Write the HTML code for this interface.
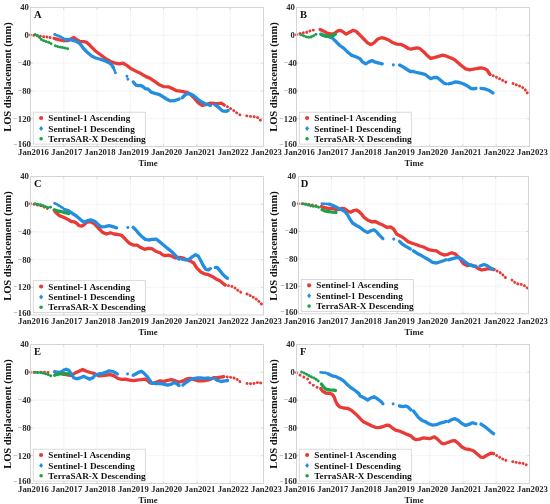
<!DOCTYPE html><html><head><meta charset="utf-8"><style>html,body{margin:0;padding:0;background:#fff;}svg{display:block;filter:blur(0.3px);}text{font-family:"Liberation Serif",serif;font-weight:bold;}</style></head><body>
<svg width="550" height="504" viewBox="0 0 550 504">
<rect width="550" height="504" fill="#fff"/>
<path d="M63.79 7.5V146.5M97.07 7.5V146.5M130.36 7.5V146.5M163.64 7.5V146.5M196.93 7.5V146.5M230.21 7.5V146.5M30.5 35.3H263.5M30.5 63.1H263.5M30.5 90.9H263.5M30.5 118.7H263.5" stroke="#f1f1f1" stroke-width="0.8" fill="none"/>
<polyline points="30.5,35 33.7,35.4 37.5,35.8 41.4,36.3 43.9,36.7 48.4,37.2 52,38" fill="none" stroke="#e93a36" stroke-width="2.9" stroke-linecap="round" stroke-linejoin="round" stroke-dasharray="0.1 3.2"/>
<polyline points="54.1,38.4 58.5,39.7 63.6,40.7 67.5,40.7 71.3,38.8 73.8,37.5 76.4,39.5 80.2,41.7 84,41.7 86.5,42.3 90.4,45.8 95.1,50.7 100.2,54.5 105.3,58.4 110.4,61.5 114.2,62.8 119.3,63.8 123.1,63.2 126.9,65.4 130.7,68.5 135.8,71.1 140.9,73.6 146,76.6 149.8,78.1 155,81.6 158.8,84.4 163.9,86.7 169,86.9 172.8,88.8 176.6,90.7 181.7,91.4 186.8,92.3 190.6,94.5 194.5,98.4 198.3,102.8 202.1,105.4 205.9,104.7 209.7,103.2 214.8,103.5 218.6,103.6 221.4,103.2 224.1,105" fill="none" stroke="#e93a36" stroke-width="3.3" stroke-linecap="round" stroke-linejoin="round"/>
<polyline points="224.1,105 227.7,106.8 231.4,109.1 235,111.4 237.7,113.6 241.4,115.5" fill="none" stroke="#e93a36" stroke-width="2.9" stroke-linecap="round" stroke-linejoin="round" stroke-dasharray="0.1 3.6"/>
<polyline points="246.8,115.9 252.3,116.6 256.8,116.8 259.5,119.1 261.8,121.8" fill="none" stroke="#e93a36" stroke-width="2.9" stroke-linecap="round" stroke-linejoin="round" stroke-dasharray="0.1 3.6"/>
<polyline points="54.7,34.4 58.5,35.9 61.7,37.2 64.9,39.5" fill="none" stroke="#238de0" stroke-width="2.9" stroke-linecap="round" stroke-linejoin="round" stroke-dasharray="0.1 2.2"/>
<polyline points="64.9,39.5 68.7,39.7 72.5,40.1 76.4,41.4 80.2,43.9 84,49 87.8,52.8 91.6,56 95.1,57.7 100.2,59.3 105.3,60.9 109.1,62.8 111.6,64.7 113.5,67.9" fill="none" stroke="#238de0" stroke-width="3.3" stroke-linecap="round" stroke-linejoin="round"/>
<polyline points="113.5,67.9 114.8,71.1 116.1,74.5" fill="none" stroke="#238de0" stroke-width="2.9" stroke-linecap="round" stroke-linejoin="round" stroke-dasharray="0.1 2.4"/>
<polyline points="126.9,76.2 128.2,80" fill="none" stroke="#238de0" stroke-width="2.9" stroke-linecap="round" stroke-linejoin="round" stroke-dasharray="0.1 3"/>
<polyline points="133.3,81.9 135.8,85.1 138.4,85.7 140.9,85.5 143.5,87 145.4,88.9 147.9,88.9 151.1,92.1 154.9,93.4 158.8,94.3 162.6,96.5 166.5,99 170.3,100.9 174.1,100.7 179.2,99" fill="none" stroke="#238de0" stroke-width="3.3" stroke-linecap="round" stroke-linejoin="round"/>
<polyline points="182.4,97.7 185.5,94.5 189.4,93.5 193.2,95.2 197,98.4 200.8,101.5 204.6,103.5 208.5,104.7 210.4,105.4" fill="none" stroke="#238de0" stroke-width="3.3" stroke-linecap="round" stroke-linejoin="round"/>
<polyline points="214.8,104.7 218.6,107.3 222.3,110.9 225.9,111.4 228.2,110.5" fill="none" stroke="#238de0" stroke-width="3.3" stroke-linecap="round" stroke-linejoin="round"/>
<polyline points="35,34.4 37.5,35.6 39.5,37.5 42,40.1 45.8,41.4 49.6,42.6 52.2,44.5" fill="none" stroke="#1ca24c" stroke-width="2.9" stroke-linecap="round" stroke-linejoin="round" stroke-dasharray="0.1 2.6"/>
<polyline points="55.4,45.8 58.5,46.8 63.6,47.7 68.7,49" fill="none" stroke="#1ca24c" stroke-width="2.9" stroke-linecap="round" stroke-linejoin="round" stroke-dasharray="0.1 2.4"/>
<rect x="30.5" y="7.5" width="233" height="139" fill="none" stroke="#d4d4d4" stroke-width="1"/>
<path d="M63.79 7.5v2.2M63.79 146.5v-2.2M97.07 7.5v2.2M97.07 146.5v-2.2M130.36 7.5v2.2M130.36 146.5v-2.2M163.64 7.5v2.2M163.64 146.5v-2.2M196.93 7.5v2.2M196.93 146.5v-2.2M230.21 7.5v2.2M230.21 146.5v-2.2M30.5 35.3h2.2M263.5 35.3h-2.2M30.5 63.1h2.2M263.5 63.1h-2.2M30.5 90.9h2.2M263.5 90.9h-2.2M30.5 118.7h2.2M263.5 118.7h-2.2" stroke="#cfcfcf" stroke-width="0.8" fill="none"/>
<g font-size="8.7" fill="#2b2b2b"><text x="28.9" y="10.4" text-anchor="end">40</text><text x="28.9" y="38.2" text-anchor="end">0</text><text x="30.9" y="66" text-anchor="end"><tspan font-weight="normal" font-size="7.5" fill="#666" dy="-0.9">−</tspan><tspan dx="0.3" dy="0.9">40</tspan></text><text x="30.9" y="93.8" text-anchor="end"><tspan font-weight="normal" font-size="7.5" fill="#666" dy="-0.9">−</tspan><tspan dx="0.3" dy="0.9">80</tspan></text><text x="30.9" y="121.6" text-anchor="end"><tspan font-weight="normal" font-size="7.5" fill="#666" dy="-0.9">−</tspan><tspan dx="0.3" dy="0.9">120</tspan></text><text x="30.9" y="147.4" text-anchor="end"><tspan font-weight="normal" font-size="7.5" fill="#666" dy="-0.9">−</tspan><tspan dx="0.3" dy="0.9">160</tspan></text></g>
<g font-size="8.7" fill="#2b2b2b"><text x="33.5" y="155.1" text-anchor="middle">Jan2016</text><text x="66.79" y="155.1" text-anchor="middle">Jan2017</text><text x="100.07" y="155.1" text-anchor="middle">Jan2018</text><text x="133.36" y="155.1" text-anchor="middle">Jan2019</text><text x="166.64" y="155.1" text-anchor="middle">Jan2020</text><text x="199.93" y="155.1" text-anchor="middle">Jan2021</text><text x="233.21" y="155.1" text-anchor="middle">Jan2022</text><text x="266.5" y="155.1" text-anchor="middle">Jan2023</text></g>
<text x="148" y="166.3" font-size="8.7" text-anchor="middle" fill="#222">Time</text>
<text transform="translate(11,77) rotate(-90)" font-size="10.5" text-anchor="middle" fill="#111">LOS displacement (mm)</text>
<text x="34" y="18.3" font-size="10.5" fill="#111">A</text>
<rect x="33.3" y="112.2" width="112" height="31.9" fill="#fff" stroke="#d0d0d0" stroke-width="0.8"/>
<circle cx="41.1" cy="118" r="2.1" fill="#e93a36"/>
<text x="48.3" y="121.1" font-size="9.2" fill="#111">Sentinel-1 Ascending</text>
<path d="M41.1 125.9l2 2.5l-2 2.5l-2 -2.5z" fill="#238de0"/>
<text x="48.3" y="131.5" font-size="9.2" fill="#111">Sentinel-1 Descending</text>
<circle cx="41.1" cy="138.8" r="1.8" fill="#1ca24c"/>
<text x="48.3" y="141.9" font-size="9.2" fill="#111">TerraSAR-X Descending</text>
<path d="M329.79 7.5V146.5M363.07 7.5V146.5M396.36 7.5V146.5M429.64 7.5V146.5M462.93 7.5V146.5M496.21 7.5V146.5M296.5 35.3H529.5M296.5 63.1H529.5M296.5 90.9H529.5M296.5 118.7H529.5" stroke="#f1f1f1" stroke-width="0.8" fill="none"/>
<polyline points="296.5,34.7 301,33.2 304.5,32.6 307.4,32.2 309.9,30.9 314.4,29.9" fill="none" stroke="#e93a36" stroke-width="2.9" stroke-linecap="round" stroke-linejoin="round" stroke-dasharray="0.1 3.4"/>
<polyline points="320.1,29.4 323.3,30.9 327.1,33.2 332.2,34.1 334.7,33.2 337.9,30.9 340.5,30.3 343,31.9 346.2,34.1 350,31.9 353.2,30.3 356.4,31.5 360.2,35.4 363.8,39 367.6,42.8 370.8,44.7 374,42.8 377.8,39 381.6,37.7 385.5,38.7 389.3,40.3 393.1,42.8 396.9,44.1 400.7,44.3 404.5,46 408.4,48.5 410.9,49.2 413.5,48.5 417.3,47.9 419.8,48.5 423.6,51.7 427.5,55.8 430.7,58.4 433.9,57.7 437.7,56.7 442.8,55.2 446.6,56.2 450.5,57.7 454.3,59.6 458.1,62.8 461.9,66 465.7,68.9 469.5,69.8 473.4,69.2 477.2,68.5 481,67.9 484,68.5 487,70 490,74.5" fill="none" stroke="#e93a36" stroke-width="3.3" stroke-linecap="round" stroke-linejoin="round"/>
<polyline points="490,74.5 494,76 498,78 502,80 506,82.2 509,82.8" fill="none" stroke="#e93a36" stroke-width="2.9" stroke-linecap="round" stroke-linejoin="round" stroke-dasharray="0.1 3.4"/>
<polyline points="513,83.5 518,85.5 522,87 525,89.5 528,94" fill="none" stroke="#e93a36" stroke-width="2.9" stroke-linecap="round" stroke-linejoin="round" stroke-dasharray="0.1 3.4"/>
<polyline points="320.7,34.1 324.5,35.7 329.6,37 332.2,37.9 336,41.7 339.8,45.5 343.6,48.1 347.5,51.9 351.3,55.1 356.4,57 360,58.7 362.5,61.9 365.7,63.8 368.9,61.9 372.1,60.6 375.3,62.2 379.1,63.2 382.3,63.8" fill="none" stroke="#238de0" stroke-width="3.3" stroke-linecap="round" stroke-linejoin="round"/>
<polyline points="393.3,64.8 393.4,64.9" fill="none" stroke="#238de0" stroke-width="2.9" stroke-linecap="round" stroke-linejoin="round" stroke-dasharray="0.1 3"/>
<polyline points="399.5,65.1 403.3,67 407.1,69.5 410.3,71.5 413.5,71.5 417.3,72.7 421.1,73.4 425,74.3 427.5,76.2 430.7,78.7 433.9,77.5 437.1,77.5 440.3,80 444.1,83.2 446,83.8" fill="none" stroke="#238de0" stroke-width="3.3" stroke-linecap="round" stroke-linejoin="round"/>
<polyline points="448.5,83.8 451.7,83.2 455.5,81.9 459.4,82.5 463.2,83.8 467,85.7 470.8,88.3 473.4,88.9 475.9,88.3" fill="none" stroke="#238de0" stroke-width="3.3" stroke-linecap="round" stroke-linejoin="round"/>
<polyline points="481,88.3 484.8,88.9 488.6,90.2 492.5,92.7 493,93" fill="none" stroke="#238de0" stroke-width="3.3" stroke-linecap="round" stroke-linejoin="round"/>
<polyline points="301,34.7 303.5,35.7 306.7,37 309.9,37.5 313.1,36 316.3,34.1 318.2,33.5" fill="none" stroke="#1ca24c" stroke-width="2.9" stroke-linecap="round" stroke-linejoin="round" stroke-dasharray="0.1 2.6"/>
<polyline points="321.4,34.7 325.2,36 329.6,36.3 333.5,35.4 335.4,34.1" fill="none" stroke="#1ca24c" stroke-width="3.3" stroke-linecap="round" stroke-linejoin="round"/>
<rect x="296.5" y="7.5" width="233" height="139" fill="none" stroke="#d4d4d4" stroke-width="1"/>
<path d="M329.79 7.5v2.2M329.79 146.5v-2.2M363.07 7.5v2.2M363.07 146.5v-2.2M396.36 7.5v2.2M396.36 146.5v-2.2M429.64 7.5v2.2M429.64 146.5v-2.2M462.93 7.5v2.2M462.93 146.5v-2.2M496.21 7.5v2.2M496.21 146.5v-2.2M296.5 35.3h2.2M529.5 35.3h-2.2M296.5 63.1h2.2M529.5 63.1h-2.2M296.5 90.9h2.2M529.5 90.9h-2.2M296.5 118.7h2.2M529.5 118.7h-2.2" stroke="#cfcfcf" stroke-width="0.8" fill="none"/>
<g font-size="8.7" fill="#2b2b2b"><text x="294.9" y="10.4" text-anchor="end">40</text><text x="294.9" y="38.2" text-anchor="end">0</text><text x="296.9" y="66" text-anchor="end"><tspan font-weight="normal" font-size="7.5" fill="#666" dy="-0.9">−</tspan><tspan dx="0.3" dy="0.9">40</tspan></text><text x="296.9" y="93.8" text-anchor="end"><tspan font-weight="normal" font-size="7.5" fill="#666" dy="-0.9">−</tspan><tspan dx="0.3" dy="0.9">80</tspan></text><text x="296.9" y="121.6" text-anchor="end"><tspan font-weight="normal" font-size="7.5" fill="#666" dy="-0.9">−</tspan><tspan dx="0.3" dy="0.9">120</tspan></text><text x="296.9" y="147.4" text-anchor="end"><tspan font-weight="normal" font-size="7.5" fill="#666" dy="-0.9">−</tspan><tspan dx="0.3" dy="0.9">160</tspan></text></g>
<g font-size="8.7" fill="#2b2b2b"><text x="299.5" y="155.1" text-anchor="middle">Jan2016</text><text x="332.79" y="155.1" text-anchor="middle">Jan2017</text><text x="366.07" y="155.1" text-anchor="middle">Jan2018</text><text x="399.36" y="155.1" text-anchor="middle">Jan2019</text><text x="432.64" y="155.1" text-anchor="middle">Jan2020</text><text x="465.93" y="155.1" text-anchor="middle">Jan2021</text><text x="499.21" y="155.1" text-anchor="middle">Jan2022</text><text x="532.5" y="155.1" text-anchor="middle">Jan2023</text></g>
<text x="414" y="166.3" font-size="8.7" text-anchor="middle" fill="#222">Time</text>
<text transform="translate(277.3,77) rotate(-90)" font-size="10.5" text-anchor="middle" fill="#111">LOS displacement (mm)</text>
<text x="300" y="18.3" font-size="10.5" fill="#111">B</text>
<rect x="299.3" y="112.2" width="112" height="31.9" fill="#fff" stroke="#d0d0d0" stroke-width="0.8"/>
<circle cx="307.1" cy="118" r="2.1" fill="#e93a36"/>
<text x="314.3" y="121.1" font-size="9.2" fill="#111">Sentinel-1 Ascending</text>
<path d="M307.1 125.9l2 2.5l-2 2.5l-2 -2.5z" fill="#238de0"/>
<text x="314.3" y="131.5" font-size="9.2" fill="#111">Sentinel-1 Descending</text>
<circle cx="307.1" cy="138.8" r="1.8" fill="#1ca24c"/>
<text x="314.3" y="141.9" font-size="9.2" fill="#111">TerraSAR-X Descending</text>
<path d="M63.79 176.5V315M97.07 176.5V315M130.36 176.5V315M163.64 176.5V315M196.93 176.5V315M230.21 176.5V315M30.5 204.2H263.5M30.5 231.9H263.5M30.5 259.6H263.5M30.5 287.3H263.5" stroke="#f1f1f1" stroke-width="0.8" fill="none"/>
<polyline points="30.5,203.7 33.1,204.2 36.5,204.8 40.1,205.4 43.3,206.7 47.1,208.4 49,209" fill="none" stroke="#e93a36" stroke-width="2.9" stroke-linecap="round" stroke-linejoin="round" stroke-dasharray="0.1 3.4"/>
<polyline points="54.1,210 56,212.8 59.2,215.4 63.6,217.3 67.5,219.2 71.3,221.5 73.8,221.7 76.4,223 78.9,225.5 81.5,226.2 84,224.9 86.5,222.4 90.4,221.7 94.2,223.6 98.8,228.5 102.6,232.4 106.5,234 110.3,232.7 114.1,234 117.9,234.5 121.7,235.3 125.5,239.4 129.4,243.2 133.2,245.1 137,245.1 140.8,247.6 144.6,249.3 148.5,248.3 152.3,248.9 156.1,251.5 160,252.8 162.5,254.7 165.1,255.6 168.3,255.1 171.5,256 175.3,257.9 179.1,257.3 182.9,257.9 186.7,259.8 190.5,261.1 193.7,263 196.9,268.1 200.7,271.9 204.5,273.8 208.4,274.7 212.2,276.4 216,278.9 219.8,280.8 222,282.5 225,285" fill="none" stroke="#e93a36" stroke-width="3.3" stroke-linecap="round" stroke-linejoin="round"/>
<polyline points="225,285 228,285.5 232,286.5 235,288 238,290.5 242,293" fill="none" stroke="#e93a36" stroke-width="2.9" stroke-linecap="round" stroke-linejoin="round" stroke-dasharray="0.1 3.4"/>
<polyline points="247,294 252,296.5 256,299 259,301.5 262,304.5" fill="none" stroke="#e93a36" stroke-width="2.9" stroke-linecap="round" stroke-linejoin="round" stroke-dasharray="0.1 3.4"/>
<polyline points="54.7,203.3 57.3,204.5 60.5,206.5 62.4,207.7 64.9,209.6" fill="none" stroke="#238de0" stroke-width="2.9" stroke-linecap="round" stroke-linejoin="round" stroke-dasharray="0.1 2.2"/>
<polyline points="64.9,209.6 68.7,210.9 72.5,213.5 76.4,216 80.2,219.2 83.4,222 86.5,221.1 90.4,219.8 92.9,220.5 95,221.5 98.2,224.7 101.4,226.9 105.2,226.6 109,225.6 112.8,226.6 116.6,227.9" fill="none" stroke="#238de0" stroke-width="3.3" stroke-linecap="round" stroke-linejoin="round"/>
<polyline points="127.8,227.5 127.9,227.5" fill="none" stroke="#238de0" stroke-width="2.9" stroke-linecap="round" stroke-linejoin="round" stroke-dasharray="0.1 3"/>
<polyline points="133.2,227.3 135.7,229.8 138.9,233.6 142.1,236.8 145.3,239.4 148.5,240 152.3,239.4 156.1,239.1 159.9,241.9 163.8,245.2 167.6,248.4 171.5,251.5 175.3,255.4 179.1,259.2" fill="none" stroke="#238de0" stroke-width="3.3" stroke-linecap="round" stroke-linejoin="round"/>
<polyline points="182.3,259.2 185.5,259.8 189.3,259.2 192.5,256.6 195.6,254.7 198.2,256 200.7,260.5 203.3,265.5 205.8,269.4 208.4,270 210.3,268.7" fill="none" stroke="#238de0" stroke-width="3.3" stroke-linecap="round" stroke-linejoin="round"/>
<polyline points="215.4,267.5 217.3,267.5 219.8,270.6 222.4,273.8 224.9,276.4 227.5,278.3" fill="none" stroke="#238de0" stroke-width="3.3" stroke-linecap="round" stroke-linejoin="round"/>
<polyline points="35,203.7 38.2,204.2 42,205.2 45.2,206.5 48.4,207.7 50.9,207.1 52.2,208.4" fill="none" stroke="#1ca24c" stroke-width="2.9" stroke-linecap="round" stroke-linejoin="round" stroke-dasharray="0.1 2.6"/>
<polyline points="54.7,210 57.3,210.9 61.1,211.5 64.9,212.6 68.7,213.5" fill="none" stroke="#1ca24c" stroke-width="3.3" stroke-linecap="round" stroke-linejoin="round"/>
<rect x="30.5" y="176.5" width="233" height="138.5" fill="none" stroke="#d4d4d4" stroke-width="1"/>
<path d="M63.79 176.5v2.2M63.79 315v-2.2M97.07 176.5v2.2M97.07 315v-2.2M130.36 176.5v2.2M130.36 315v-2.2M163.64 176.5v2.2M163.64 315v-2.2M196.93 176.5v2.2M196.93 315v-2.2M230.21 176.5v2.2M230.21 315v-2.2M30.5 204.2h2.2M263.5 204.2h-2.2M30.5 231.9h2.2M263.5 231.9h-2.2M30.5 259.6h2.2M263.5 259.6h-2.2M30.5 287.3h2.2M263.5 287.3h-2.2" stroke="#cfcfcf" stroke-width="0.8" fill="none"/>
<g font-size="8.7" fill="#2b2b2b"><text x="28.9" y="179.4" text-anchor="end">40</text><text x="28.9" y="207.1" text-anchor="end">0</text><text x="30.9" y="234.8" text-anchor="end"><tspan font-weight="normal" font-size="7.5" fill="#666" dy="-0.9">−</tspan><tspan dx="0.3" dy="0.9">40</tspan></text><text x="30.9" y="262.5" text-anchor="end"><tspan font-weight="normal" font-size="7.5" fill="#666" dy="-0.9">−</tspan><tspan dx="0.3" dy="0.9">80</tspan></text><text x="30.9" y="290.2" text-anchor="end"><tspan font-weight="normal" font-size="7.5" fill="#666" dy="-0.9">−</tspan><tspan dx="0.3" dy="0.9">120</tspan></text><text x="30.9" y="315.9" text-anchor="end"><tspan font-weight="normal" font-size="7.5" fill="#666" dy="-0.9">−</tspan><tspan dx="0.3" dy="0.9">160</tspan></text></g>
<g font-size="8.7" fill="#2b2b2b"><text x="33.5" y="323.6" text-anchor="middle">Jan2016</text><text x="66.79" y="323.6" text-anchor="middle">Jan2017</text><text x="100.07" y="323.6" text-anchor="middle">Jan2018</text><text x="133.36" y="323.6" text-anchor="middle">Jan2019</text><text x="166.64" y="323.6" text-anchor="middle">Jan2020</text><text x="199.93" y="323.6" text-anchor="middle">Jan2021</text><text x="233.21" y="323.6" text-anchor="middle">Jan2022</text><text x="266.5" y="323.6" text-anchor="middle">Jan2023</text></g>
<text x="148" y="334.8" font-size="8.7" text-anchor="middle" fill="#222">Time</text>
<text transform="translate(11,246) rotate(-90)" font-size="10.5" text-anchor="middle" fill="#111">LOS displacement (mm)</text>
<text x="34" y="187.3" font-size="10.5" fill="#111">C</text>
<rect x="33.3" y="280.7" width="112" height="31.9" fill="#fff" stroke="#d0d0d0" stroke-width="0.8"/>
<circle cx="41.1" cy="286.5" r="2.1" fill="#e93a36"/>
<text x="48.3" y="289.6" font-size="9.2" fill="#111">Sentinel-1 Ascending</text>
<path d="M41.1 294.4l2 2.5l-2 2.5l-2 -2.5z" fill="#238de0"/>
<text x="48.3" y="300" font-size="9.2" fill="#111">Sentinel-1 Descending</text>
<circle cx="41.1" cy="307.3" r="1.8" fill="#1ca24c"/>
<text x="48.3" y="310.4" font-size="9.2" fill="#111">TerraSAR-X Descending</text>
<path d="M331.36 176.5V313.8M364.21 176.5V313.8M397.07 176.5V313.8M429.93 176.5V313.8M462.79 176.5V313.8M495.64 176.5V313.8M298.5 203.96H528.5M298.5 231.42H528.5M298.5 258.88H528.5M298.5 286.34H528.5" stroke="#f1f1f1" stroke-width="0.8" fill="none"/>
<polyline points="298.5,203.7 302.9,203.9 306,204.2 309.3,204.5 313.1,205.2 317,205.8" fill="none" stroke="#e93a36" stroke-width="2.9" stroke-linecap="round" stroke-linejoin="round" stroke-dasharray="0.1 3.4"/>
<polyline points="321.4,206.5 324.5,207.7 328.4,208.4 332.2,208.4 336,209.3 339.2,209.6 341.7,208.4 344.3,208.7 347.5,210.9 350.6,212.2 353.8,210.5 356.4,210 358.9,211.5 361.5,214.1 363.8,217.1 367.6,220 371.5,221.8 375.3,221.5 379.1,223.5 382.9,225.1 386.7,227.3 390.5,226.9 393.7,229.2 396.9,234.3 400.7,236.2 404.5,238.7 408.4,241.9 412.2,243.2 416,244.5 419.8,246 423.6,247 427,248.9 428.8,249.6 432.6,250.3 436.5,250.9 440.3,253.5 444.1,255.1 447.9,254.3 451.7,252.8 455.5,254.1 459.4,257.9 463.2,263.6 467,265.5 470.8,264.9 474.6,266.2 478.5,268.7 481.6,270 484.8,269.4 488.6,268.7 492,269.2 494,269.5" fill="none" stroke="#e93a36" stroke-width="3.3" stroke-linecap="round" stroke-linejoin="round"/>
<polyline points="494,269.5 497,271 501,273 504,276 507,279" fill="none" stroke="#e93a36" stroke-width="2.9" stroke-linecap="round" stroke-linejoin="round" stroke-dasharray="0.1 3.4"/>
<polyline points="512,280 515,282.5 518,284 522,284.5 525,286 527.5,288" fill="none" stroke="#e93a36" stroke-width="2.9" stroke-linecap="round" stroke-linejoin="round" stroke-dasharray="0.1 3.4"/>
<polyline points="322,203.7 325.8,203.9 329.6,204.2" fill="none" stroke="#238de0" stroke-width="2.9" stroke-linecap="round" stroke-linejoin="round" stroke-dasharray="0.1 2.2"/>
<polyline points="329.6,204.2 333.5,205.8 337.3,207.7 341.1,209.6 344.9,211.5 347.5,214.7 350,219.2 352.5,223 356.4,225.5 360.2,227.5 363.8,230.5 367.6,232.4 371.5,230.5 374,229.8 376.5,231.7 379.1,234.9 382.9,238.7" fill="none" stroke="#238de0" stroke-width="3.3" stroke-linecap="round" stroke-linejoin="round"/>
<polyline points="393.7,239.1 395,241.3" fill="none" stroke="#238de0" stroke-width="2.9" stroke-linecap="round" stroke-linejoin="round" stroke-dasharray="0.1 2.6"/>
<polyline points="399.5,241.3 402,243.8 405.8,246.4 410.3,248.9" fill="none" stroke="#238de0" stroke-width="3.3" stroke-linecap="round" stroke-linejoin="round"/>
<polyline points="413.5,250.8 417.3,253.4 421.1,255.3 425,257.7 428.8,259.8 432.6,262.4 436.5,263 440.3,261.7 444.1,260.5 446,259.8" fill="none" stroke="#238de0" stroke-width="3.3" stroke-linecap="round" stroke-linejoin="round"/>
<polyline points="448.5,259.8 451.7,258.9 455.5,257.9 458.7,257.3 461.9,259.2 465.7,262.4 469.5,264.9 473.4,266.2 475.9,266.2" fill="none" stroke="#238de0" stroke-width="3.3" stroke-linecap="round" stroke-linejoin="round"/>
<polyline points="480,266 484,264.5 487,265.5 490,267.5 493,269.5" fill="none" stroke="#238de0" stroke-width="3.3" stroke-linecap="round" stroke-linejoin="round"/>
<polyline points="302.9,203.7 306.7,204.5 310.5,205.8 314.4,206.5 317.5,206.5 319.5,207.7" fill="none" stroke="#1ca24c" stroke-width="2.9" stroke-linecap="round" stroke-linejoin="round" stroke-dasharray="0.1 2.6"/>
<polyline points="322,209.6 324.5,210.9 328.4,211.5 332.2,212.2 336,212.4" fill="none" stroke="#1ca24c" stroke-width="3.3" stroke-linecap="round" stroke-linejoin="round"/>
<rect x="298.5" y="176.5" width="230" height="137.3" fill="none" stroke="#d4d4d4" stroke-width="1"/>
<path d="M331.36 176.5v2.2M331.36 313.8v-2.2M364.21 176.5v2.2M364.21 313.8v-2.2M397.07 176.5v2.2M397.07 313.8v-2.2M429.93 176.5v2.2M429.93 313.8v-2.2M462.79 176.5v2.2M462.79 313.8v-2.2M495.64 176.5v2.2M495.64 313.8v-2.2M298.5 203.96h2.2M528.5 203.96h-2.2M298.5 231.42h2.2M528.5 231.42h-2.2M298.5 258.88h2.2M528.5 258.88h-2.2M298.5 286.34h2.2M528.5 286.34h-2.2" stroke="#cfcfcf" stroke-width="0.8" fill="none"/>
<g font-size="8.7" fill="#2b2b2b"><text x="296.1" y="179.4" text-anchor="end">40</text><text x="296.1" y="206.86" text-anchor="end">0</text><text x="297.7" y="234.32" text-anchor="end"><tspan font-weight="normal" font-size="7.5" fill="#666" dy="-0.9">−</tspan><tspan dx="0.3" dy="0.9">40</tspan></text><text x="297.7" y="261.78" text-anchor="end"><tspan font-weight="normal" font-size="7.5" fill="#666" dy="-0.9">−</tspan><tspan dx="0.3" dy="0.9">80</tspan></text><text x="297.7" y="289.24" text-anchor="end"><tspan font-weight="normal" font-size="7.5" fill="#666" dy="-0.9">−</tspan><tspan dx="0.3" dy="0.9">120</tspan></text><text x="297.7" y="314.7" text-anchor="end"><tspan font-weight="normal" font-size="7.5" fill="#666" dy="-0.9">−</tspan><tspan dx="0.3" dy="0.9">160</tspan></text></g>
<g font-size="8.7" fill="#2b2b2b"><text x="299.5" y="323.6" text-anchor="middle">Jan2016</text><text x="332.79" y="323.6" text-anchor="middle">Jan2017</text><text x="366.07" y="323.6" text-anchor="middle">Jan2018</text><text x="399.36" y="323.6" text-anchor="middle">Jan2019</text><text x="432.64" y="323.6" text-anchor="middle">Jan2020</text><text x="465.93" y="323.6" text-anchor="middle">Jan2021</text><text x="499.21" y="323.6" text-anchor="middle">Jan2022</text><text x="532.5" y="323.6" text-anchor="middle">Jan2023</text></g>
<text x="414" y="334.8" font-size="8.7" text-anchor="middle" fill="#222">Time</text>
<text transform="translate(277.3,246) rotate(-90)" font-size="10.5" text-anchor="middle" fill="#111">LOS displacement (mm)</text>
<text x="300.8" y="187.3" font-size="10.5" fill="#111">D</text>
<rect x="301.3" y="279.5" width="112" height="31.9" fill="#fff" stroke="#d0d0d0" stroke-width="0.8"/>
<circle cx="309.1" cy="285.3" r="2.1" fill="#e93a36"/>
<text x="316.3" y="288.4" font-size="9.2" fill="#111">Sentinel-1 Ascending</text>
<path d="M309.1 293.2l2 2.5l-2 2.5l-2 -2.5z" fill="#238de0"/>
<text x="316.3" y="298.8" font-size="9.2" fill="#111">Sentinel-1 Descending</text>
<circle cx="309.1" cy="306.1" r="1.8" fill="#1ca24c"/>
<text x="316.3" y="309.2" font-size="9.2" fill="#111">TerraSAR-X Descending</text>
<path d="M63.79 344.5V483.5M97.07 344.5V483.5M130.36 344.5V483.5M163.64 344.5V483.5M196.93 344.5V483.5M230.21 344.5V483.5M30.5 372.3H263.5M30.5 400.1H263.5M30.5 427.9H263.5M30.5 455.7H263.5" stroke="#f1f1f1" stroke-width="0.8" fill="none"/>
<polyline points="30.5,372.3 33.1,372.5 36.9,372.5 40.7,372.2 44.5,372.3 48.4,372.5 51,372.3" fill="none" stroke="#e93a36" stroke-width="2.9" stroke-linecap="round" stroke-linejoin="round" stroke-dasharray="0.1 3.4"/>
<polyline points="54.7,372.1 58.5,372.7 62.4,374 66.2,374.6 70,375.3 72.5,374.6 75.7,372.7 78.9,371.2 82.7,369.5 86.5,371.2 90.4,372.5 94.2,373.4 98.8,375.9 102.6,375.5 106.5,375 110.3,374.6 114.1,375.9 117.9,378.5 121.7,379.3 125.5,379.1 129.4,380.1 133.2,380.6 137,380.1 140.8,379.7 144.6,379.1 147.2,380.1 149.7,382.7 152.3,383.5 156.1,382.3 160,380.9 163.8,381.3 167.6,380.3 171.5,379.6 175.3,380.9 179.1,382.2 182.9,380.9 186.7,379 190.5,378.4 194.4,379.6 198.2,380.9 202,380.9 205.8,380.5 209.6,379.6 213.5,377.7 217.3,377.7 221.1,377.1 223.6,376.7" fill="none" stroke="#e93a36" stroke-width="3.3" stroke-linecap="round" stroke-linejoin="round"/>
<polyline points="223.6,376.7 228,377 232,377.5 236,378.5 239,381 242,383" fill="none" stroke="#e93a36" stroke-width="2.9" stroke-linecap="round" stroke-linejoin="round" stroke-dasharray="0.1 3.4"/>
<polyline points="247,383.5 252,383.8 256,383 259,382.2 262,383.5" fill="none" stroke="#e93a36" stroke-width="2.9" stroke-linecap="round" stroke-linejoin="round" stroke-dasharray="0.1 3.4"/>
<polyline points="54.7,371.5 58.5,372.1 61.7,371.5 63.6,370.2" fill="none" stroke="#238de0" stroke-width="2.9" stroke-linecap="round" stroke-linejoin="round" stroke-dasharray="0.1 2.2"/>
<polyline points="63.6,370.2 66.2,369.2 68.7,370.2 71.3,374 73.8,377.8 76.4,378.8 80.2,377.8 84,376.3 86.5,377.8 89.7,379.1 92.9,377.8 95,375.3 98.8,374 102.6,373.4 106.5,372.1 109,370.8 112.8,371.5 115.4,372.7 117.3,374" fill="none" stroke="#238de0" stroke-width="3.3" stroke-linecap="round" stroke-linejoin="round"/>
<polyline points="127.5,374 127.6,374" fill="none" stroke="#238de0" stroke-width="2.9" stroke-linecap="round" stroke-linejoin="round" stroke-dasharray="0.1 3"/>
<polyline points="133.2,375.3 135.7,374 138.9,372.1 141.5,371.2 143.4,372.7 145.3,374.6 147.2,376.5 149.1,379.1 151.6,382.9 154.8,383.5 158.6,383.5 160,383.5 163.8,384.1 167.6,385.1 171.5,384.1 174.6,382.6 177.2,384.1 179.1,385.6" fill="none" stroke="#238de0" stroke-width="3.3" stroke-linecap="round" stroke-linejoin="round"/>
<polyline points="182.9,385.1 185.5,382.8 189.3,380.3 193.1,378.7 196.9,378 200.7,378 204.5,378.4 208.4,378 210.9,378.7" fill="none" stroke="#238de0" stroke-width="3.3" stroke-linecap="round" stroke-linejoin="round"/>
<polyline points="214.7,378.4 217.3,380.3 221.1,381.5 224.9,380.9 227.5,380.5" fill="none" stroke="#238de0" stroke-width="3.3" stroke-linecap="round" stroke-linejoin="round"/>
<polyline points="35,372.3 38.2,372.5 42,372.7 45.2,373.7 48.4,374.6 50.9,375.9" fill="none" stroke="#1ca24c" stroke-width="2.9" stroke-linecap="round" stroke-linejoin="round" stroke-dasharray="0.1 2.6"/>
<polyline points="54.7,375.3 57.3,374.3 61.1,373.7 64.9,373.7 68.7,374" fill="none" stroke="#1ca24c" stroke-width="3.3" stroke-linecap="round" stroke-linejoin="round"/>
<rect x="30.5" y="344.5" width="233" height="139" fill="none" stroke="#d4d4d4" stroke-width="1"/>
<path d="M63.79 344.5v2.2M63.79 483.5v-2.2M97.07 344.5v2.2M97.07 483.5v-2.2M130.36 344.5v2.2M130.36 483.5v-2.2M163.64 344.5v2.2M163.64 483.5v-2.2M196.93 344.5v2.2M196.93 483.5v-2.2M230.21 344.5v2.2M230.21 483.5v-2.2M30.5 372.3h2.2M263.5 372.3h-2.2M30.5 400.1h2.2M263.5 400.1h-2.2M30.5 427.9h2.2M263.5 427.9h-2.2M30.5 455.7h2.2M263.5 455.7h-2.2" stroke="#cfcfcf" stroke-width="0.8" fill="none"/>
<g font-size="8.7" fill="#2b2b2b"><text x="28.9" y="347.4" text-anchor="end">40</text><text x="28.9" y="375.2" text-anchor="end">0</text><text x="30.9" y="403" text-anchor="end"><tspan font-weight="normal" font-size="7.5" fill="#666" dy="-0.9">−</tspan><tspan dx="0.3" dy="0.9">40</tspan></text><text x="30.9" y="430.8" text-anchor="end"><tspan font-weight="normal" font-size="7.5" fill="#666" dy="-0.9">−</tspan><tspan dx="0.3" dy="0.9">80</tspan></text><text x="30.9" y="458.6" text-anchor="end"><tspan font-weight="normal" font-size="7.5" fill="#666" dy="-0.9">−</tspan><tspan dx="0.3" dy="0.9">120</tspan></text><text x="30.9" y="484.4" text-anchor="end"><tspan font-weight="normal" font-size="7.5" fill="#666" dy="-0.9">−</tspan><tspan dx="0.3" dy="0.9">160</tspan></text></g>
<g font-size="8.7" fill="#2b2b2b"><text x="33.5" y="492.1" text-anchor="middle">Jan2016</text><text x="66.79" y="492.1" text-anchor="middle">Jan2017</text><text x="100.07" y="492.1" text-anchor="middle">Jan2018</text><text x="133.36" y="492.1" text-anchor="middle">Jan2019</text><text x="166.64" y="492.1" text-anchor="middle">Jan2020</text><text x="199.93" y="492.1" text-anchor="middle">Jan2021</text><text x="233.21" y="492.1" text-anchor="middle">Jan2022</text><text x="266.5" y="492.1" text-anchor="middle">Jan2023</text></g>
<text x="148" y="503.3" font-size="8.7" text-anchor="middle" fill="#222">Time</text>
<text transform="translate(11,414) rotate(-90)" font-size="10.5" text-anchor="middle" fill="#111">LOS displacement (mm)</text>
<text x="34" y="355.3" font-size="10.5" fill="#111">E</text>
<rect x="33.3" y="449.2" width="112" height="31.9" fill="#fff" stroke="#d0d0d0" stroke-width="0.8"/>
<circle cx="41.1" cy="455" r="2.1" fill="#e93a36"/>
<text x="48.3" y="458.1" font-size="9.2" fill="#111">Sentinel-1 Ascending</text>
<path d="M41.1 462.9l2 2.5l-2 2.5l-2 -2.5z" fill="#238de0"/>
<text x="48.3" y="468.5" font-size="9.2" fill="#111">Sentinel-1 Descending</text>
<circle cx="41.1" cy="475.8" r="1.8" fill="#1ca24c"/>
<text x="48.3" y="478.9" font-size="9.2" fill="#111">TerraSAR-X Descending</text>
<path d="M329.79 344.5V483.5M363.07 344.5V483.5M396.36 344.5V483.5M429.64 344.5V483.5M462.93 344.5V483.5M496.21 344.5V483.5M296.5 372.3H529.5M296.5 400.1H529.5M296.5 427.9H529.5M296.5 455.7H529.5" stroke="#f1f1f1" stroke-width="0.8" fill="none"/>
<polyline points="296.5,372.6 301,375.8 307.4,378.7 309.9,382.8 314.4,386 317.5,387.5" fill="none" stroke="#e93a36" stroke-width="2.9" stroke-linecap="round" stroke-linejoin="round" stroke-dasharray="0.1 4.2"/>
<polyline points="320.7,388.5 322.6,391.1 325.8,393 329.6,393.3 332.2,394.3 334.1,396.8 335.4,400.6 337.3,404.5 339.8,407 343.6,408 347.5,408.3 351.3,410.2 355.1,413.4 358.9,417.2 361.5,420 363.8,421.9 367.6,423.8 371.5,425.7 375.3,427.3 379.1,427.6 382.9,426.7 386.7,425.1 389.3,425.5 391.8,427.6 395.6,430.2 399.5,431.1 403.3,432.7 407.1,434.4 410.9,435.9 413.5,438.5 416,439.7 419.8,439.1 423.6,437.8 427,438.3 428.8,438.7 431.4,438.1 434.5,436.8 437.7,439.4 441.5,443.2 444.1,443.8 447.9,442.5 451.7,440.9 454.9,440.6 458.1,443.2 461.9,447 465.7,448.9 469.5,449.5 473.4,450.8 477.2,454 481,457.2 483.5,457.4 487.4,454.9 490.9,453.2 493.6,453.6" fill="none" stroke="#e93a36" stroke-width="3.3" stroke-linecap="round" stroke-linejoin="round"/>
<polyline points="493.6,453.6 496.9,455.6 500.2,457.7 503.5,459.4 507.3,460.8 508.9,461" fill="none" stroke="#e93a36" stroke-width="2.9" stroke-linecap="round" stroke-linejoin="round" stroke-dasharray="0.1 3.4"/>
<polyline points="512.7,461.6 517.1,462.6 521.5,463.2 524.7,463.7 528,465.9" fill="none" stroke="#e93a36" stroke-width="2.9" stroke-linecap="round" stroke-linejoin="round" stroke-dasharray="0.1 3.4"/>
<polyline points="320.7,372.4 323.3,372.6 326.5,372.9 328.4,373.9" fill="none" stroke="#238de0" stroke-width="2.9" stroke-linecap="round" stroke-linejoin="round" stroke-dasharray="0.1 2.2"/>
<polyline points="328.4,373.9 332.2,375.8 336,376.7 339.8,378.4 343.6,380.9 347.5,384.7 351.3,387.9 355.1,390.5 358.9,393.6 360,395.8 363.8,397.7 367.6,400 371.5,397.7 374,396.7 377.8,399 381,401.5 382.9,403.8" fill="none" stroke="#238de0" stroke-width="3.3" stroke-linecap="round" stroke-linejoin="round"/>
<polyline points="393.1,403.8 394.4,405.4" fill="none" stroke="#238de0" stroke-width="2.9" stroke-linecap="round" stroke-linejoin="round" stroke-dasharray="0.1 2.6"/>
<polyline points="399.5,406 403.3,406.6 405.8,406 408.4,407.3 410.9,409.8" fill="none" stroke="#238de0" stroke-width="3.3" stroke-linecap="round" stroke-linejoin="round"/>
<polyline points="413.5,411.1 416,414.3 418.5,417.5 422.4,420.6 425,421.5 428.8,423.8 432.6,425.1 436.5,424.7 440.3,423.1 444.1,422.2 446,421.5" fill="none" stroke="#238de0" stroke-width="3.3" stroke-linecap="round" stroke-linejoin="round"/>
<polyline points="448.5,421.5 451.7,419.6 454.9,418.7 458.1,420.3 461.9,423.5 465.7,425.4 469.5,424.1 472.7,422.8 475.9,423.8" fill="none" stroke="#238de0" stroke-width="3.3" stroke-linecap="round" stroke-linejoin="round"/>
<polyline points="481,424.1 484.8,426.6 488.6,429.8 492.5,433 493.6,433.7" fill="none" stroke="#238de0" stroke-width="3.3" stroke-linecap="round" stroke-linejoin="round"/>
<polyline points="301.6,372 304.8,373.3 308,375.2 311.8,377.1 315,378.4 317.5,380.3 319.5,382.2" fill="none" stroke="#1ca24c" stroke-width="2.9" stroke-linecap="round" stroke-linejoin="round" stroke-dasharray="0.1 2.6"/>
<polyline points="321.4,384.1 323.3,386.6 325.8,389.2 329.6,389.8 333.5,390.2 335.4,390.5" fill="none" stroke="#1ca24c" stroke-width="3.3" stroke-linecap="round" stroke-linejoin="round"/>
<rect x="296.5" y="344.5" width="233" height="139" fill="none" stroke="#d4d4d4" stroke-width="1"/>
<path d="M329.79 344.5v2.2M329.79 483.5v-2.2M363.07 344.5v2.2M363.07 483.5v-2.2M396.36 344.5v2.2M396.36 483.5v-2.2M429.64 344.5v2.2M429.64 483.5v-2.2M462.93 344.5v2.2M462.93 483.5v-2.2M496.21 344.5v2.2M496.21 483.5v-2.2M296.5 372.3h2.2M529.5 372.3h-2.2M296.5 400.1h2.2M529.5 400.1h-2.2M296.5 427.9h2.2M529.5 427.9h-2.2M296.5 455.7h2.2M529.5 455.7h-2.2" stroke="#cfcfcf" stroke-width="0.8" fill="none"/>
<g font-size="8.7" fill="#2b2b2b"><text x="294.9" y="347.4" text-anchor="end">40</text><text x="294.9" y="375.2" text-anchor="end">0</text><text x="296.9" y="403" text-anchor="end"><tspan font-weight="normal" font-size="7.5" fill="#666" dy="-0.9">−</tspan><tspan dx="0.3" dy="0.9">40</tspan></text><text x="296.9" y="430.8" text-anchor="end"><tspan font-weight="normal" font-size="7.5" fill="#666" dy="-0.9">−</tspan><tspan dx="0.3" dy="0.9">80</tspan></text><text x="296.9" y="458.6" text-anchor="end"><tspan font-weight="normal" font-size="7.5" fill="#666" dy="-0.9">−</tspan><tspan dx="0.3" dy="0.9">120</tspan></text><text x="296.9" y="484.4" text-anchor="end"><tspan font-weight="normal" font-size="7.5" fill="#666" dy="-0.9">−</tspan><tspan dx="0.3" dy="0.9">160</tspan></text></g>
<g font-size="8.7" fill="#2b2b2b"><text x="299.5" y="492.1" text-anchor="middle">Jan2016</text><text x="332.79" y="492.1" text-anchor="middle">Jan2017</text><text x="366.07" y="492.1" text-anchor="middle">Jan2018</text><text x="399.36" y="492.1" text-anchor="middle">Jan2019</text><text x="432.64" y="492.1" text-anchor="middle">Jan2020</text><text x="465.93" y="492.1" text-anchor="middle">Jan2021</text><text x="499.21" y="492.1" text-anchor="middle">Jan2022</text><text x="532.5" y="492.1" text-anchor="middle">Jan2023</text></g>
<text x="414" y="503.3" font-size="8.7" text-anchor="middle" fill="#222">Time</text>
<text transform="translate(277.3,414) rotate(-90)" font-size="10.5" text-anchor="middle" fill="#111">LOS displacement (mm)</text>
<text x="300" y="355.3" font-size="10.5" fill="#111">F</text>
<rect x="299.3" y="449.2" width="112" height="31.9" fill="#fff" stroke="#d0d0d0" stroke-width="0.8"/>
<circle cx="307.1" cy="455" r="2.1" fill="#e93a36"/>
<text x="314.3" y="458.1" font-size="9.2" fill="#111">Sentinel-1 Ascending</text>
<path d="M307.1 462.9l2 2.5l-2 2.5l-2 -2.5z" fill="#238de0"/>
<text x="314.3" y="468.5" font-size="9.2" fill="#111">Sentinel-1 Descending</text>
<circle cx="307.1" cy="475.8" r="1.8" fill="#1ca24c"/>
<text x="314.3" y="478.9" font-size="9.2" fill="#111">TerraSAR-X Descending</text>
</svg></body></html>
